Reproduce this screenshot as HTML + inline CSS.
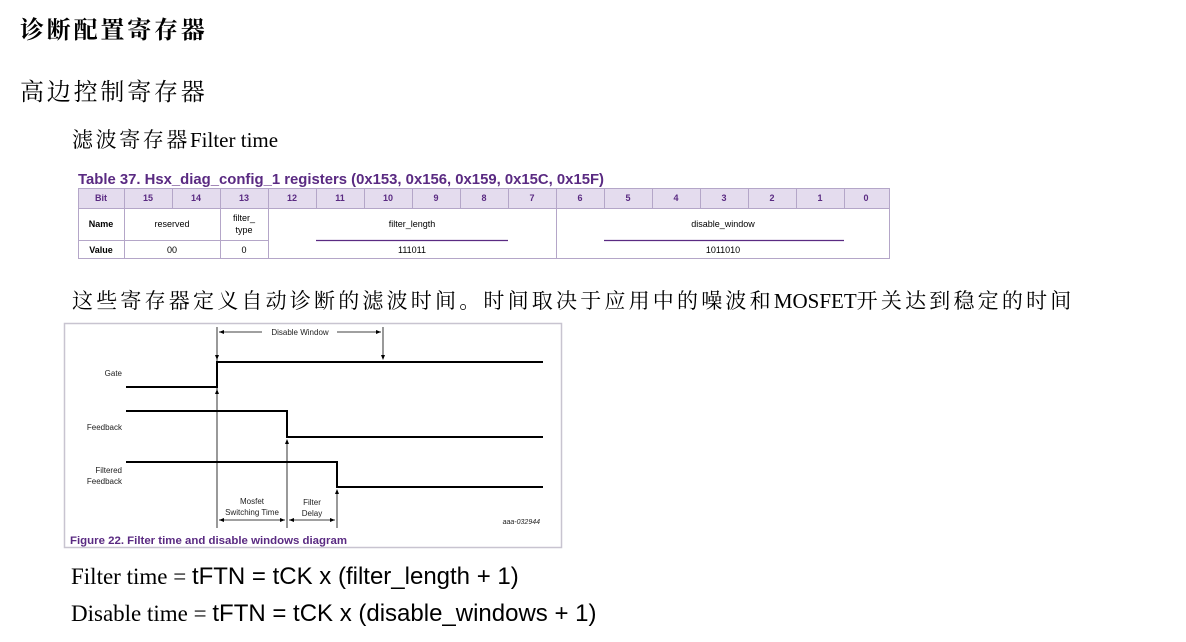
<!DOCTYPE html>
<html><head><meta charset="utf-8"><style>
body{margin:0;width:1186px;height:642px;background:#fff;position:relative;overflow:hidden}
.t{position:absolute;white-space:nowrap;font-family:"Liberation Serif","Noto Serif CJK SC",serif;color:#000}
.s{font-family:"Liberation Sans",sans-serif}
</style></head><body>
<div class="t" style="left:20px;top:10px;font-size:24px;font-weight:bold;letter-spacing:2.8px">诊断配置寄存器</div>
<div class="t" style="left:20px;top:72px;font-size:24px;letter-spacing:2.8px">高边控制寄存器</div>
<div class="t" style="left:72px;top:124px;font-size:21px"><span style="letter-spacing:2.6px">滤波寄存器</span>Filter time</div>
<div class="t" style="left:72px;top:285px;font-size:21px;letter-spacing:3.2px">这些寄存器定义自动诊断的滤波时间。时间取决于应用中的噪波和<span style="letter-spacing:0">MOSFET</span>开关达到稳定的时间</div>
<div class="t" style="left:71px;top:563px;font-size:23px">Filter time = <span class="s" style="font-size:24px">tFTN = tCK x (filter_length + 1)</span></div>
<div class="t" style="left:71px;top:600px;font-size:23px">Disable time = <span class="s" style="font-size:24px">tFTN = tCK x (disable_windows + 1)</span></div>

<svg style="position:absolute;left:0;top:0" width="1186" height="642" font-family="Liberation Sans,sans-serif">
<text x="78" y="184" font-size="14.5" font-weight="bold" fill="#5a2a82" textLength="526" lengthAdjust="spacingAndGlyphs">Table 37.  Hsx_diag_config_1 registers (0x153, 0x156, 0x159, 0x15C, 0x15F)</text>
<rect x="78" y="188" width="812" height="20" fill="#e4dcee"/>
<g stroke="#b4a6c8" stroke-width="1" fill="none">
<rect x="78.5" y="188.5" width="811" height="70"/>
<line x1="78" y1="208.5" x2="890" y2="208.5"/>
<line x1="78" y1="240.5" x2="268" y2="240.5"/>
<line x1="124.5" y1="188" x2="124.5" y2="259"/>
<line x1="220.5" y1="188" x2="220.5" y2="259"/>
<line x1="268.5" y1="188" x2="268.5" y2="259"/>
<line x1="556.5" y1="188" x2="556.5" y2="259"/>
<g>
<line x1="172.5" y1="188" x2="172.5" y2="208"/>
<line x1="316.5" y1="188" x2="316.5" y2="208"/><line x1="364.5" y1="188" x2="364.5" y2="208"/>
<line x1="412.5" y1="188" x2="412.5" y2="208"/><line x1="460.5" y1="188" x2="460.5" y2="208"/>
<line x1="508.5" y1="188" x2="508.5" y2="208"/><line x1="604.5" y1="188" x2="604.5" y2="208"/>
<line x1="652.5" y1="188" x2="652.5" y2="208"/><line x1="700.5" y1="188" x2="700.5" y2="208"/>
<line x1="748.5" y1="188" x2="748.5" y2="208"/><line x1="796.5" y1="188" x2="796.5" y2="208"/>
<line x1="844.5" y1="188" x2="844.5" y2="208"/>
</g></g>
<line x1="316" y1="240.5" x2="508" y2="240.5" stroke="#5a2a82" stroke-width="1.2"/>
<line x1="604" y1="240.5" x2="844" y2="240.5" stroke="#5a2a82" stroke-width="1.2"/>
<g font-size="9" font-weight="bold" fill="#5a2a82" text-anchor="middle">
<text x="101" y="201">Bit</text><text x="148" y="201">15</text><text x="196" y="201">14</text><text x="244" y="201">13</text>
<text x="292" y="201">12</text><text x="340" y="201">11</text><text x="388" y="201">10</text><text x="436" y="201">9</text>
<text x="484" y="201">8</text><text x="532" y="201">7</text><text x="580" y="201">6</text><text x="628" y="201">5</text>
<text x="676" y="201">4</text><text x="724" y="201">3</text><text x="772" y="201">2</text><text x="820" y="201">1</text><text x="866" y="201">0</text>
</g>
<g font-size="9" fill="#000" text-anchor="middle">
<text x="101" y="227" font-weight="bold">Name</text><text x="101" y="253" font-weight="bold">Value</text>
<text x="172" y="227">reserved</text><text x="244" y="221">filter_</text><text x="244" y="233">type</text>
<text x="412" y="227">filter_length</text><text x="723" y="227">disable_window</text>
<text x="172" y="253">00</text><text x="244" y="253">0</text><text x="412" y="253">111011</text><text x="723" y="253">1011010</text>
</g>

<rect x="64.5" y="323.5" width="497" height="224" fill="none" stroke="#c8c4d0" stroke-width="1.5"/>
<g stroke="#000" fill="none">
<polyline points="126,387 217,387 217,362 543,362" stroke-width="2"/>
<polyline points="126,411 287,411 287,437 543,437" stroke-width="2"/>
<polyline points="126,462 337,462 337,487 543,487" stroke-width="2"/>
<line x1="217" y1="327" x2="217" y2="528" stroke-width="0.8"/>
<line x1="383" y1="327" x2="383" y2="358" stroke-width="0.8"/>
<line x1="287" y1="440" x2="287" y2="528" stroke-width="0.8"/>
<line x1="337" y1="490" x2="337" y2="528" stroke-width="0.8"/>
<line x1="219" y1="332" x2="262" y2="332" stroke-width="0.7"/>
<line x1="337" y1="332" x2="381" y2="332" stroke-width="0.7"/>
<line x1="219" y1="520" x2="285" y2="520" stroke-width="0.7"/>
<line x1="289" y1="520" x2="335" y2="520" stroke-width="0.7"/>
</g>
<g fill="#000">
<path d="M219,332 l5,-2 v4z"/><path d="M381,332 l-5,-2 v4z"/>
<path d="M217,360 l-2,-5 h4z"/><path d="M383,360 l-2,-5 h4z"/>
<path d="M217,389 l-2,5 h4z"/><path d="M287,439 l-2,5 h4z"/><path d="M337,489 l-2,5 h4z"/>
<path d="M219,520 l5,-2 v4z"/><path d="M285,520 l-5,-2 v4z"/>
<path d="M289,520 l5,-2 v4z"/><path d="M335,520 l-5,-2 v4z"/>
</g>
<g font-size="8" fill="#222">
<text x="300" y="335" text-anchor="middle">Disable Window</text>
<text x="122" y="376" text-anchor="end">Gate</text>
<text x="122" y="430" text-anchor="end">Feedback</text>
<text x="122" y="473" text-anchor="end">Filtered</text>
<text x="122" y="484" text-anchor="end">Feedback</text>
<text x="252" y="504" text-anchor="middle">Mosfet</text>
<text x="252" y="515" text-anchor="middle">Switching Time</text>
<text x="312" y="505" text-anchor="middle">Filter</text>
<text x="312" y="516" text-anchor="middle">Delay</text>
<text x="540" y="524" text-anchor="end" font-size="7" font-style="italic">aaa-032944</text>
</g>
<text x="70" y="544" font-size="11" font-weight="bold" fill="#5a2a82" textLength="277" lengthAdjust="spacingAndGlyphs">Figure 22.  Filter time and disable windows diagram</text>
</svg>
</body></html>
